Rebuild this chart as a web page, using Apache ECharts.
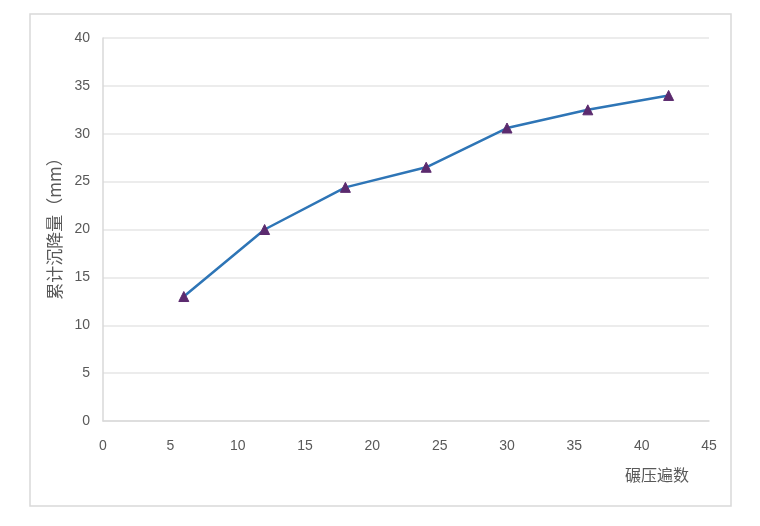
<!DOCTYPE html>
<html>
<head>
<meta charset="utf-8">
<script src="https://cdn.jsdelivr.net/npm/echarts@6/dist/echarts.min.js"></script>
<style>
html,body{margin:0;padding:0;background:#fff;}
#chart{width:760px;height:526px;}
</style>
</head>
<body>
<div id="chart"></div>
<script>
const passes = [6, 12, 18, 24, 30, 36, 42];
const settlement = [13, 20, 24.4, 26.5, 30.6, 32.5, 34];
const xTicks = [0, 5, 10, 15, 20, 25, 30, 35, 40, 45];
const yTicks = [0, 5, 10, 15, 20, 25, 30, 35, 40];
const xName = '碾压遍数';
const yName = '累计沉降量（mm）';

const chart = echarts.init(document.getElementById('chart'), null, {renderer: 'canvas'});
const font = '"Liberation Sans", "Noto Sans CJK SC", sans-serif';
chart.setOption({
  backgroundColor: '#fff',
  animation: false,
  graphic: [{
    type: 'rect',
    shape: {x: 30, y: 14, width: 701, height: 492},
    style: {fill: 'none', stroke: '#d9d9d9', lineWidth: 1.5},
    silent: true
  }],
  grid: {left: 103, right: 51, top: 38, bottom: 105},
  xAxis: {
    type: 'value',
    min: xTicks[0], max: xTicks[xTicks.length - 1], interval: 5,
    name: xName,
    nameLocation: 'end',
    nameGap: 0,
    nameTextStyle: {color: '#595959', fontSize: 16, fontFamily: '"Noto Sans CJK SC", sans-serif',
      align: 'right', verticalAlign: 'top', padding: [46, 20, 0, 0]},
    axisLine: {show: true, lineStyle: {color: '#d9d9d9', width: 1.5}},
    axisTick: {show: false},
    splitLine: {show: false},
    axisLabel: {color: '#595959', fontSize: 14, fontFamily: font, margin: 18}
  },
  yAxis: {
    type: 'value',
    min: yTicks[0], max: yTicks[yTicks.length - 1], interval: 5,
    name: yName,
    nameLocation: 'middle',
    nameGap: 37,
    nameRotate: 90,
    nameTextStyle: {color: '#595959', fontSize: 17, fontFamily: '"Noto Sans CJK SC", sans-serif', padding: [0, 0, 0, 10]},
    axisLine: {show: true, lineStyle: {color: '#d9d9d9', width: 1.5}},
    axisTick: {show: false},
    splitLine: {show: true, lineStyle: {color: '#e6e6e6', width: 1.5}},
    axisLabel: {color: '#595959', fontSize: 14, fontFamily: font, margin: 13}
  },
  series: [{
    type: 'line',
    data: passes.map((x, i) => [x, settlement[i]]),
    symbol: 'triangle',
    symbolSize: 10,
    lineStyle: {color: '#2e75b6', width: 2.5},
    itemStyle: {color: '#5b2a6e', borderColor: '#5b2a6e'},
    z: 3
  }]
});
</script>
</body>
</html>
